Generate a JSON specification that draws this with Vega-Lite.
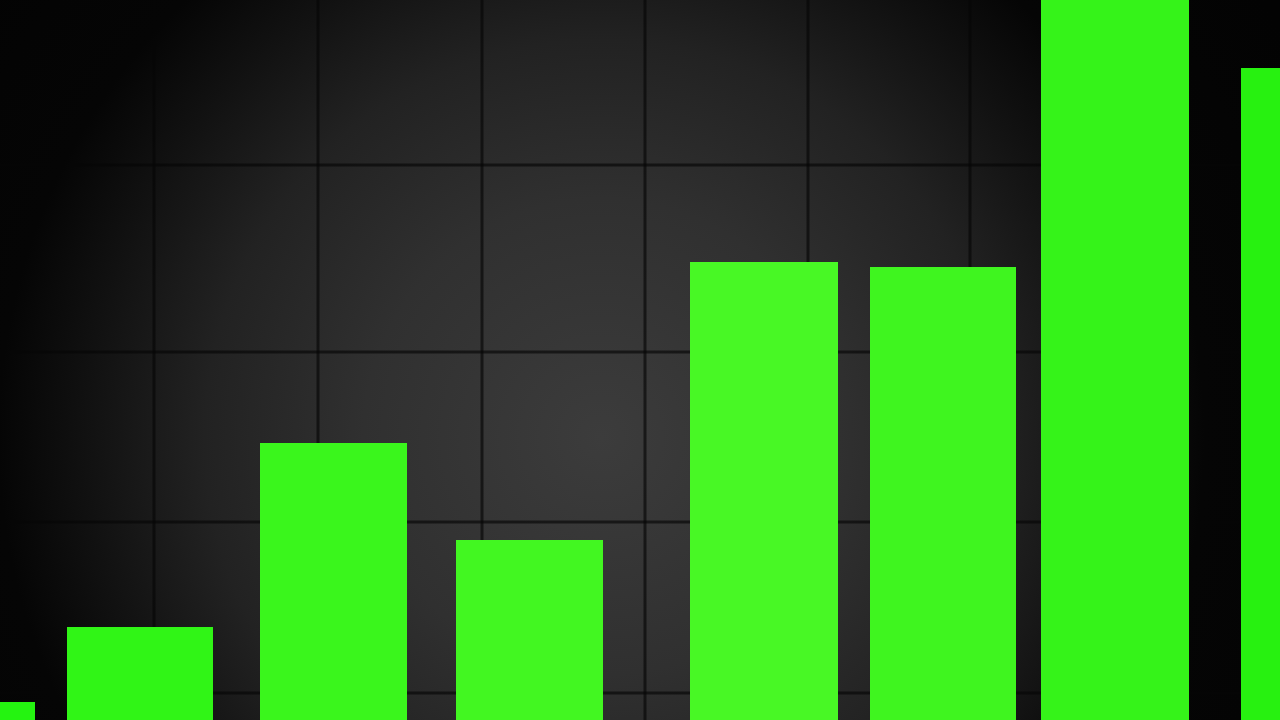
{
  "$schema": "https://vega.github.io/schema/vega-lite/v6.json",
  "autosize": {"type": "fit", "contains": "padding"},
  "width": 1280,
  "height": 720,
  "padding": 0,
  "background": "#050505",
  "config": {"view": {"stroke": null}},
  "datasets": {
    "panel": [{"x0": 0, "x1": 1280, "y0": 0, "y1": 720}],
    "vgrid": [{"gx": 154}, {"gx": 318}, {"gx": 482}, {"gx": 645}, {"gx": 808}, {"gx": 970}, {"gx": 1133}],
    "hgrid": [{"gy": 555}, {"gy": 368}, {"gy": 198}, {"gy": 27}],
    "bars": [
      {"bar": 0, "start": -112, "end": 35, "value": 18},
      {"bar": 1, "start": 67, "end": 213, "value": 93},
      {"bar": 2, "start": 260, "end": 407, "value": 277},
      {"bar": 3, "start": 456, "end": 603, "value": 180},
      {"bar": 4, "start": 690, "end": 838, "value": 458},
      {"bar": 5, "start": 870, "end": 1016, "value": 453},
      {"bar": 6, "start": 1041, "end": 1189, "value": 760},
      {"bar": 7, "start": 1241, "end": 1388, "value": 652}
    ]
  },
  "layer": [
    {
      "data": {"name": "panel"},
      "mark": {
        "type": "rect",
        "clip": true,
        "color": {
          "gradient": "radial",
          "x1": 0.47, "y1": 0.56, "x2": 0.47, "y2": 0.56,
          "r1": 0, "r2": 0.62,
          "stops": [
            {"offset": 0, "color": "#3c3c3c"},
            {"offset": 0.3, "color": "#303030"},
            {"offset": 0.5, "color": "#222222"},
            {"offset": 0.65, "color": "#111111"},
            {"offset": 0.76, "color": "#050505"},
            {"offset": 1, "color": "#030303"}
          ]
        }
      },
      "encoding": {
        "x": {"field": "x0", "type": "quantitative", "scale": {"domain": [0, 1280], "nice": false, "zero": false}, "axis": null},
        "x2": {"field": "x1"},
        "y": {"field": "y0", "type": "quantitative", "scale": {"domain": [0, 720], "nice": false, "zero": false}, "axis": null},
        "y2": {"field": "y1"}
      }
    },
    {
      "data": {"name": "vgrid"},
      "mark": {"type": "rule", "clip": true, "color": "#060606", "strokeWidth": 3, "opacity": 0.65},
      "encoding": {
        "x": {"field": "gx", "type": "quantitative", "scale": {"domain": [0, 1280], "nice": false, "zero": false}, "axis": null}
      }
    },
    {
      "data": {"name": "hgrid"},
      "mark": {"type": "rule", "clip": true, "color": "#060606", "strokeWidth": 3, "opacity": 0.65},
      "encoding": {
        "y": {"field": "gy", "type": "quantitative", "scale": {"domain": [0, 720], "nice": false, "zero": false}, "axis": null}
      }
    },
    {
      "data": {"name": "bars"},
      "mark": {"type": "rect", "clip": true},
      "encoding": {
        "x": {"field": "start", "type": "quantitative", "scale": {"domain": [0, 1280], "nice": false, "zero": false}, "axis": null},
        "x2": {"field": "end"},
        "y": {"field": "value", "type": "quantitative", "scale": {"domain": [0, 720], "nice": false, "zero": false}, "axis": null},
        "y2": {"datum": 0},
        "color": {
          "field": "start",
          "type": "quantitative",
          "scale": {"domain": [0, 650, 1300], "range": ["#2cf514", "#4af826", "#22f00d"]},
          "legend": null
        }
      }
    }
  ]
}
